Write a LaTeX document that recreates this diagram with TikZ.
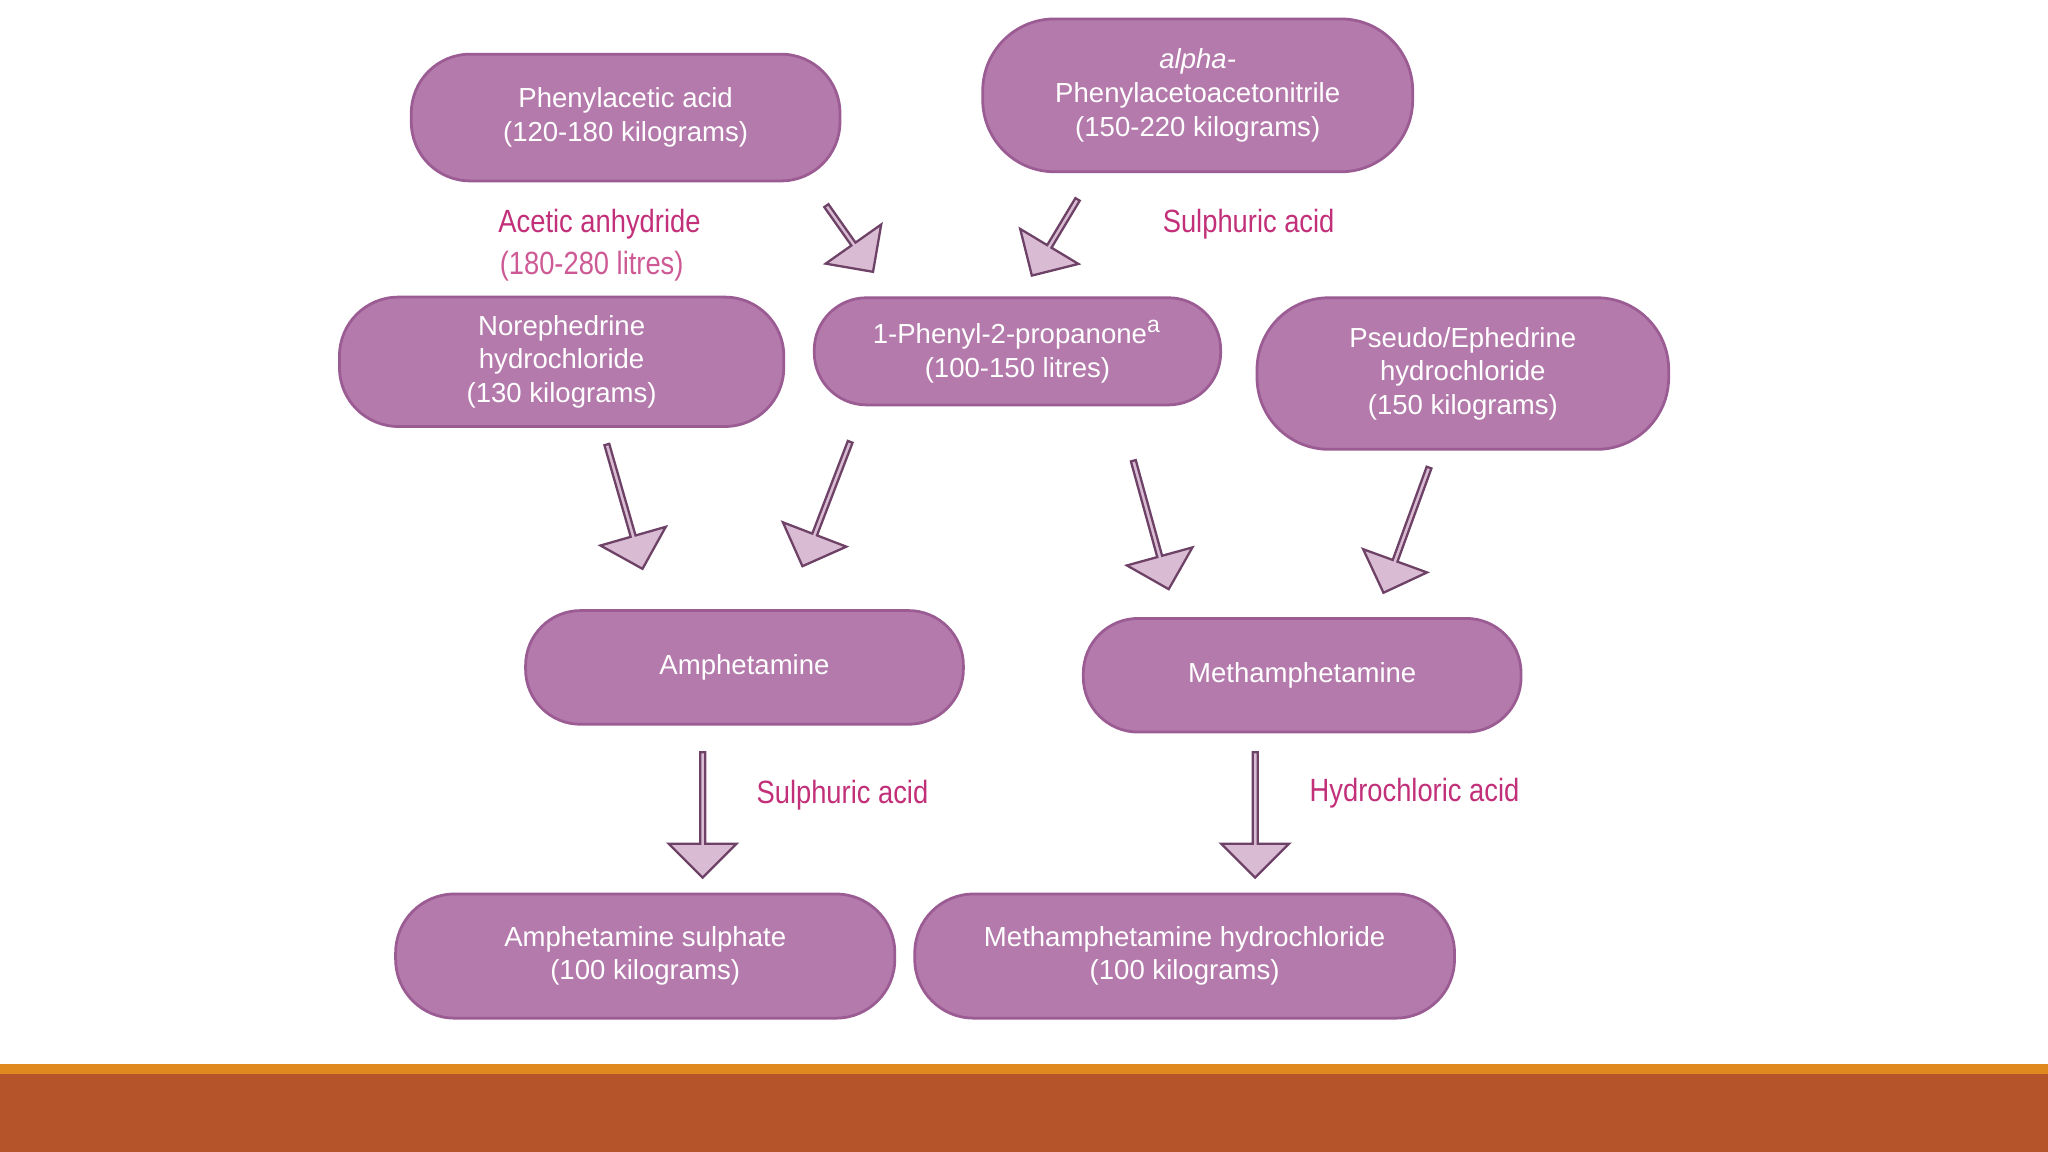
\documentclass[tikz,border=0pt]{standalone}
\usepackage{fontspec}
\setmainfont{Liberation Sans}
\usetikzlibrary{shapes.arrows}
\definecolor{boxfill}{HTML}{B47AAC}
\definecolor{boxline}{HTML}{9B5B93}
\definecolor{arrfill}{HTML}{D9BCD3}
\definecolor{arrline}{HTML}{6E4266}
\definecolor{labcol}{HTML}{C2307A}
\definecolor{orangebar}{HTML}{E0891E}
\definecolor{rustbar}{HTML}{B5532B}
\tikzset{
 pill/.style={rounded rectangle west arc=concave, draw=boxline, line width=0.5pt, fill=boxfill, text=white, rounded corners=4.5mm, align=center, font=\fontsize{6}{7.2}\selectfont, inner sep=0pt},
 blk/.style={single arrow, draw=arrline, fill=arrfill, line width=0.5pt, minimum height=#1*0.01cm, minimum width=0.52cm, single arrow head extend=0.11cm, inner sep=0pt, shape border uses incircle=false},
 lab/.style={text=labcol, font=\fontsize{7}{8}\selectfont\addfontfeatures{FakeStretch=0.85}}
}
\begin{document}
\begin{tikzpicture}[x=0.01cm,y=-0.01cm]
\useasboundingbox (0,0) rectangle (1568,882);
\fill[white] (0,0) rectangle (1568,815);
\fill[orangebar] (0,815) rectangle (1568,822);
\fill[rustbar] (0,822) rectangle (1568,882);
\tikzset{pill/.style={draw=boxline, line width=0.6pt, fill=boxfill, text=white, align=center, font=\fontsize{6}{7.3}\selectfont, inner sep=0pt, rounded corners=0.45cm}}
\node[pill, minimum width=3.28cm, minimum height=0.97cm] (pa) at (479,90) {Phenylacetic acid\\(120-180 kilograms)};
\node[pill, minimum width=3.29cm, minimum height=1.17cm, rounded corners=0.55cm] (apa) at (917,73) {\textit{alpha-}\\Phenylacetoacetonitrile\\(150-220 kilograms)};
\node[pill, minimum width=3.40cm, minimum height=0.99cm] (ne) at (430,277) {Norephedrine\\hydrochloride\\(130 kilograms)};
\node[pill, minimum width=3.11cm, minimum height=0.82cm, rounded corners=0.4cm] (p2p) at (779,269) {1-Phenyl-2-propanone\textsuperscript{a}\\(100-150 litres)};
\node[pill, minimum width=3.15cm, minimum height=1.16cm, rounded corners=0.55cm] (pe) at (1120,286) {Pseudo/Ephedrine\\hydrochloride\\(150 kilograms)};
\node[pill, minimum width=3.35cm, minimum height=0.87cm, rounded corners=0.42cm] (am) at (570,511) {Amphetamine};
\node[pill, minimum width=3.35cm, minimum height=0.87cm, rounded corners=0.42cm] (ma) at (997,517) {Methamphetamine};
\node[pill, minimum width=3.82cm, minimum height=0.95cm] (as) at (494,732) {Amphetamine sulphate\\(100 kilograms)};
\node[pill, minimum width=4.13cm, minimum height=0.95cm] (mh) at (907,732) {Methamphetamine hydrochloride\\(100 kilograms)};
\node[lab] (l1) at (459,172) {Acetic anhydride};
\node[lab, text=labcol!80] (l1b) at (453,204) {(180-280 litres)};
\node[lab] (l2) at (956,172) {Sulphuric acid};
\node[lab] (l3) at (645,609) {Sulphuric acid};
\node[lab] (l4) at (1083,607) {Hydrochloric acid};
\node[blk=62, rotate=-54.8] (a1) at (650,182) {};
\node[blk=68, rotate=-121] (a2) at (808,181) {};
\node[blk=99, rotate=-74] (a3) at (478,387) {};
\node[blk=102, rotate=-111] (a4) at (633,385) {};
\node[blk=102, rotate=-74.6] (a5) at (881,401) {};
\node[blk=102, rotate=-110] (a6) at (1077,405) {};
\node[blk=96, rotate=-90] (a7) at (538,623) {};
\node[blk=96, rotate=-90] (a8) at (961,623) {};
\end{tikzpicture}
\end{document}
